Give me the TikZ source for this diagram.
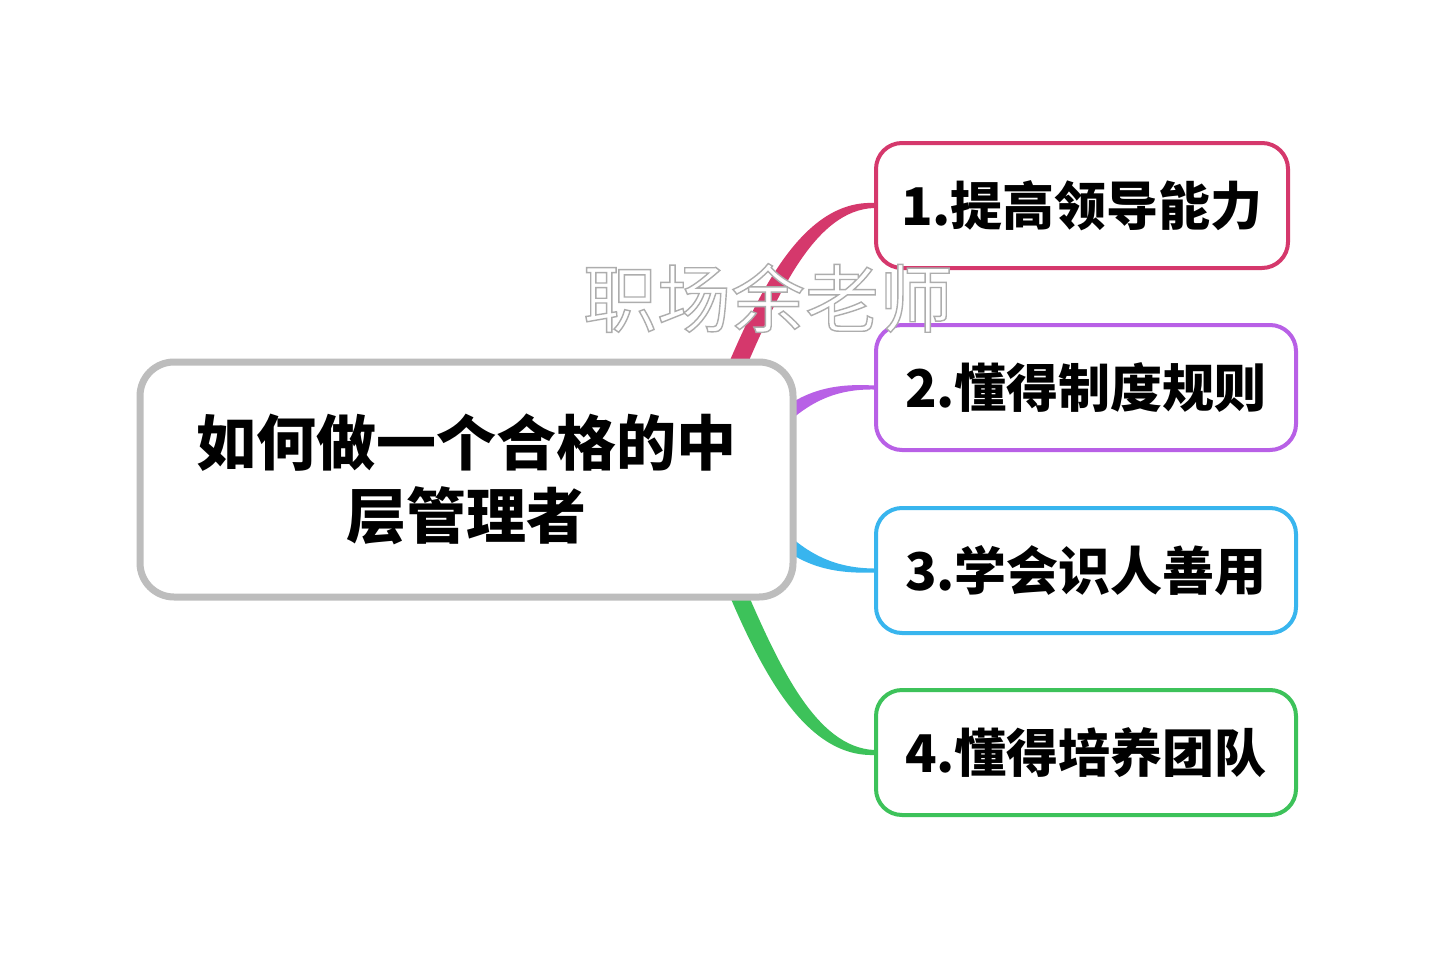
\documentclass[tikz,border=0pt]{standalone}
\usepackage{fontspec}
\setmainfont{Noto Sans CJK SC}
\usetikzlibrary{calc}
\definecolor{cpink}{RGB}{213,56,108}
\definecolor{cpurple}{RGB}{184,96,230}
\definecolor{ccyan}{RGB}{56,181,238}
\definecolor{cgreen}{RGB}{61,194,90}
\definecolor{cgray}{RGB}{189,189,189}
\tikzset{
  mainbox/.style={draw=cgray, line width=3.5pt, fill=white, rounded corners=17pt,
    minimum width=326.5pt, minimum height=117.5pt, align=center,
    font=\fontsize{30pt}{36.5pt}\selectfont\bfseries},
  subbox/.style={draw=#1, line width=2pt, fill=white, rounded corners=13pt,
    minimum height=62.5pt, font=\fontsize{26pt}{30pt}\selectfont\bfseries},
  wm/.style={font=\fontsize{37pt}{40pt}\selectfont, inner sep=0pt, text=white}
}
\newcommand{\outlinedtext}[1]{\special{pdf:literal direct 2 Tr 0.7 w 0.68 G}#1\special{pdf:literal direct 0 Tr}}
\begin{document}
\begin{tikzpicture}[x=0.5pt,y=-0.5pt]
\useasboundingbox (0,0) rectangle (1440,958);
\fill[white] (0,0) rectangle (1440,958);
% child nodes
\node[subbox=cpink, minimum width=206pt] (c1) at (1082,205.5) {1.提高领导能力};
\node[subbox=cpurple, minimum width=210pt] (c2) at (1086,387.5) {2.懂得制度规则};
\node[subbox=ccyan, minimum width=210pt] (c3) at (1086,570.5) {3.学会识人善用};
\node[subbox=cgreen, minimum width=210pt] (c4) at (1086,752.5) {4.懂得培养团队};
% connectors (tapered)
\fill[cpink] (725,372) .. controls (760,289) and (804,200) .. ($(c1.west)+(0,-2.5)$)
  -- ($(c1.west)+(0,2.5)$) .. controls (816,210) and (779,291) .. (744,372) -- cycle;
\fill[cpurple] (770,420) .. controls (800,391) and (832,383) .. ($(c2.west)+(0,-2)$)
  -- ($(c2.west)+(0,2)$) .. controls (838,389) and (810,400) .. (780,430) -- cycle;
\fill[ccyan] (770,537) .. controls (800,566) and (832,574) .. ($(c3.west)+(0,2)$)
  -- ($(c3.west)+(0,-2)$) .. controls (838,568) and (810,557) .. (780,527) -- cycle;
\fill[cgreen] (725,585) .. controls (760,668) and (804,757) .. ($(c4.west)+(0,2.5)$)
  -- ($(c4.west)+(0,-2.5)$) .. controls (816,747) and (779,666) .. (744,585) -- cycle;
% central node
\node[mainbox] (c) at (466.5,479.5) {如何做一个合格的中\\层管理者};
% watermark
\node[wm] (wm) at (768,298) {\outlinedtext{职场余老师}};
\end{tikzpicture}
\end{document}
